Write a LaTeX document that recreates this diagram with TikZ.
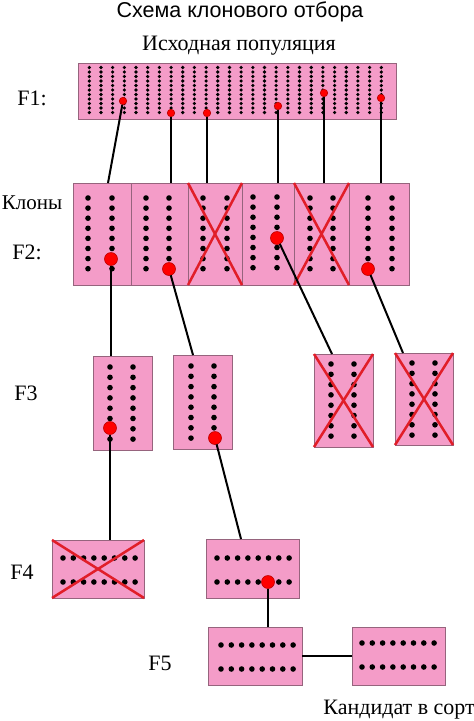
\documentclass[tikz,border=0pt]{standalone}
\usepackage{fontspec}
\setmainfont{Liberation Serif}
\newfontfamily\titlefont{Liberation Sans}
\definecolor{pinkfill}{RGB}{244,156,200}
\definecolor{boxedge}{RGB}{150,100,125}
\definecolor{crossred}{RGB}{225,30,40}
\definecolor{reddark}{RGB}{190,0,0}
\newcommand\dotcols[4]{\foreach \xx in {#1} {\foreach \jj in {0,...,7} {\fill (\xx,{#2+#3*\jj}) circle (2.8);}}}
\newcommand\dotrows[4]{\foreach \yy in {#1} {\foreach \ii in {0,...,7} {\fill ({#2+#3*\ii},\yy) circle (2.8);}}}
\begin{document}
\begin{tikzpicture}[x=1pt,y=-1pt,
  box/.style={draw=boxedge, fill=pinkfill, line width=1pt, inner sep=0pt, outer sep=0pt, rectangle, anchor=north west},
  rdot/.style={circle, fill=red, draw=reddark, line width=0.6pt, inner sep=0pt, outer sep=0pt, minimum size=#1},
  link/.style={line width=2pt, black},
  cross/.style={line width=2.5pt, crossred},
  lab/.style={font=\fontsize{22}{26}\selectfont, inner sep=0pt},
  lab2/.style={font=\fontsize{22}{26}\selectfont, inner sep=0pt}
]
\useasboundingbox[fill=white] (0,0) rectangle (474,721);

% titles
\node[font=\titlefont\fontsize{21.5}{25}\selectfont, inner sep=0pt] (title) at (240,12) {Схема клонового отбора};
\node[lab2] (pop) at (239,46) {Исходная популяция};

% row labels
\node[lab] (lF1) at (32,98) {F1:};
\node[font=\fontsize{21}{25}\selectfont, inner sep=0pt] (lKl) at (32,203) {Клоны};
\node[lab] (lF2) at (27,252) {F2:};
\node[lab] (lF3) at (26,393) {F3};
\node[lab] (lF4) at (22,572) {F4};
\node[lab] (lF5) at (160,663) {F5};
\node[lab2, anchor=east] (cand) at (475,710) {Кандидат в сорт};

% F1
\node[box, minimum width=318pt, minimum height=56pt] (f1) at (78,63) {};
\foreach \i in {0,...,25} {\foreach \j in {0,...,10} {\fill ({89.3+11.68*\i},{67.5+4.5*\j}) circle (1.8);}}

% F2
\node[box, minimum width=58pt, minimum height=102pt] (f2a) at (73,183) {};
\node[box, minimum width=57pt, minimum height=102pt] (f2b) at (131,183) {};
\node[box, minimum width=54pt, minimum height=102pt] (f2c) at (188,183) {};
\node[box, minimum width=52pt, minimum height=102pt] (f2d) at (242,183) {};
\node[box, minimum width=55pt, minimum height=102pt] (f2e) at (294,183) {};
\node[box, minimum width=60pt, minimum height=102pt] (f2f) at (349,183) {};
\dotcols{88,112}{198}{10.1}{}
\dotcols{146,169}{198}{10.1}{}
\dotcols{203,227}{198}{10.1}{}
\dotcols{253,277}{197}{10.1}{}
\dotcols{310,333}{198}{10.1}{}
\dotcols{368,392}{198}{10.1}{}

% F3
\node[box, minimum width=59pt, minimum height=94pt] (f3a) at (93,356) {};
\node[box, minimum width=59pt, minimum height=94pt] (f3b) at (173,355) {};
\node[box, minimum width=59pt, minimum height=93pt] (f3c) at (314,354) {};
\node[box, minimum width=58pt, minimum height=92pt] (f3d) at (395,353) {};
\dotcols{110,133}{367}{10.3}{}
\dotcols{191,214}{366}{10.3}{}
\dotcols{331,354}{364}{10.3}{}
\dotcols{412,435}{363}{10.3}{}

% F4
\node[box, minimum width=92pt, minimum height=58pt] (f4a) at (52,540) {};
\node[box, minimum width=93pt, minimum height=59pt] (f4b) at (206,539) {};
\dotrows{558,582}{63}{10.3}{}
\dotrows{558,582}{217}{10.3}{}

% F5
\node[box, minimum width=94pt, minimum height=58pt] (f5a) at (208,627) {};
\node[box, minimum width=93pt, minimum height=58pt] (f5b) at (352,627) {};
\dotrows{645,669}{221}{10.3}{}
\dotrows{643,667}{362}{10.3}{}

% crosses
\foreach \b in {f2c,f2e,f3c,f3d,f4a} {
  \draw[cross] (\b.north west) -- (\b.south east) (\b.north east) -- (\b.south west);
}

% red dots
\node[rdot=7.5pt] (r1a) at (123,101) {};
\node[rdot=7.5pt] (r1b) at (171,113) {};
\node[rdot=7.5pt] (r1c) at (207,113) {};
\node[rdot=7.5pt] (r1d) at (278,106) {};
\node[rdot=7.5pt] (r1e) at (324,93) {};
\node[rdot=7.5pt] (r1f) at (381,98) {};
\node[rdot=13pt] (r2a) at (111,259) {};
\node[rdot=13pt] (r2b) at (169,269) {};
\node[rdot=13pt] (r2d) at (277,238) {};
\node[rdot=13pt] (r2f) at (368,269) {};
\node[rdot=13pt] (r3a) at (110,428) {};
\node[rdot=13pt] (r3b) at (215,438) {};
\node[rdot=13pt] (r4b) at (268,582) {};

% connector endpoints on box tops
\coordinate (t2a) at (108,183);
\coordinate (t2b) at (171,183);
\coordinate (t2c) at (207,183);
\coordinate (t2d) at (278,183);
\coordinate (t2e) at (324,183);
\coordinate (t2f) at (381,183);
\coordinate (t3a) at (111,356);
\coordinate (t3b) at (193,355);
\coordinate (t3c) at (332,354);
\coordinate (t3d) at (403,353);
\coordinate (t4a) at (110,540);
\coordinate (t4b) at (241,539);
\coordinate (t5a) at (268,627);

% connectors
\draw[link] (r1a) -- (t2a);
\draw[link] (r1b) -- (t2b);
\draw[link] (r1c) -- (t2c);
\draw[link] (r1d) -- (t2d);
\draw[link] (r1e) -- (t2e);
\draw[link] (r1f) -- (t2f);
\draw[link] (r2a) -- (t3a);
\draw[link] (r2b) -- (t3b);
\draw[link] (r2d) -- (t3c);
\draw[link] (r2f) -- (t3d);
\draw[link] (r3a) -- (t4a);
\draw[link] (r3b) -- (t4b);
\draw[link] (r4b) -- (t5a);
\draw[link] (f5a) -- (f5b);
\end{tikzpicture}
\end{document}
